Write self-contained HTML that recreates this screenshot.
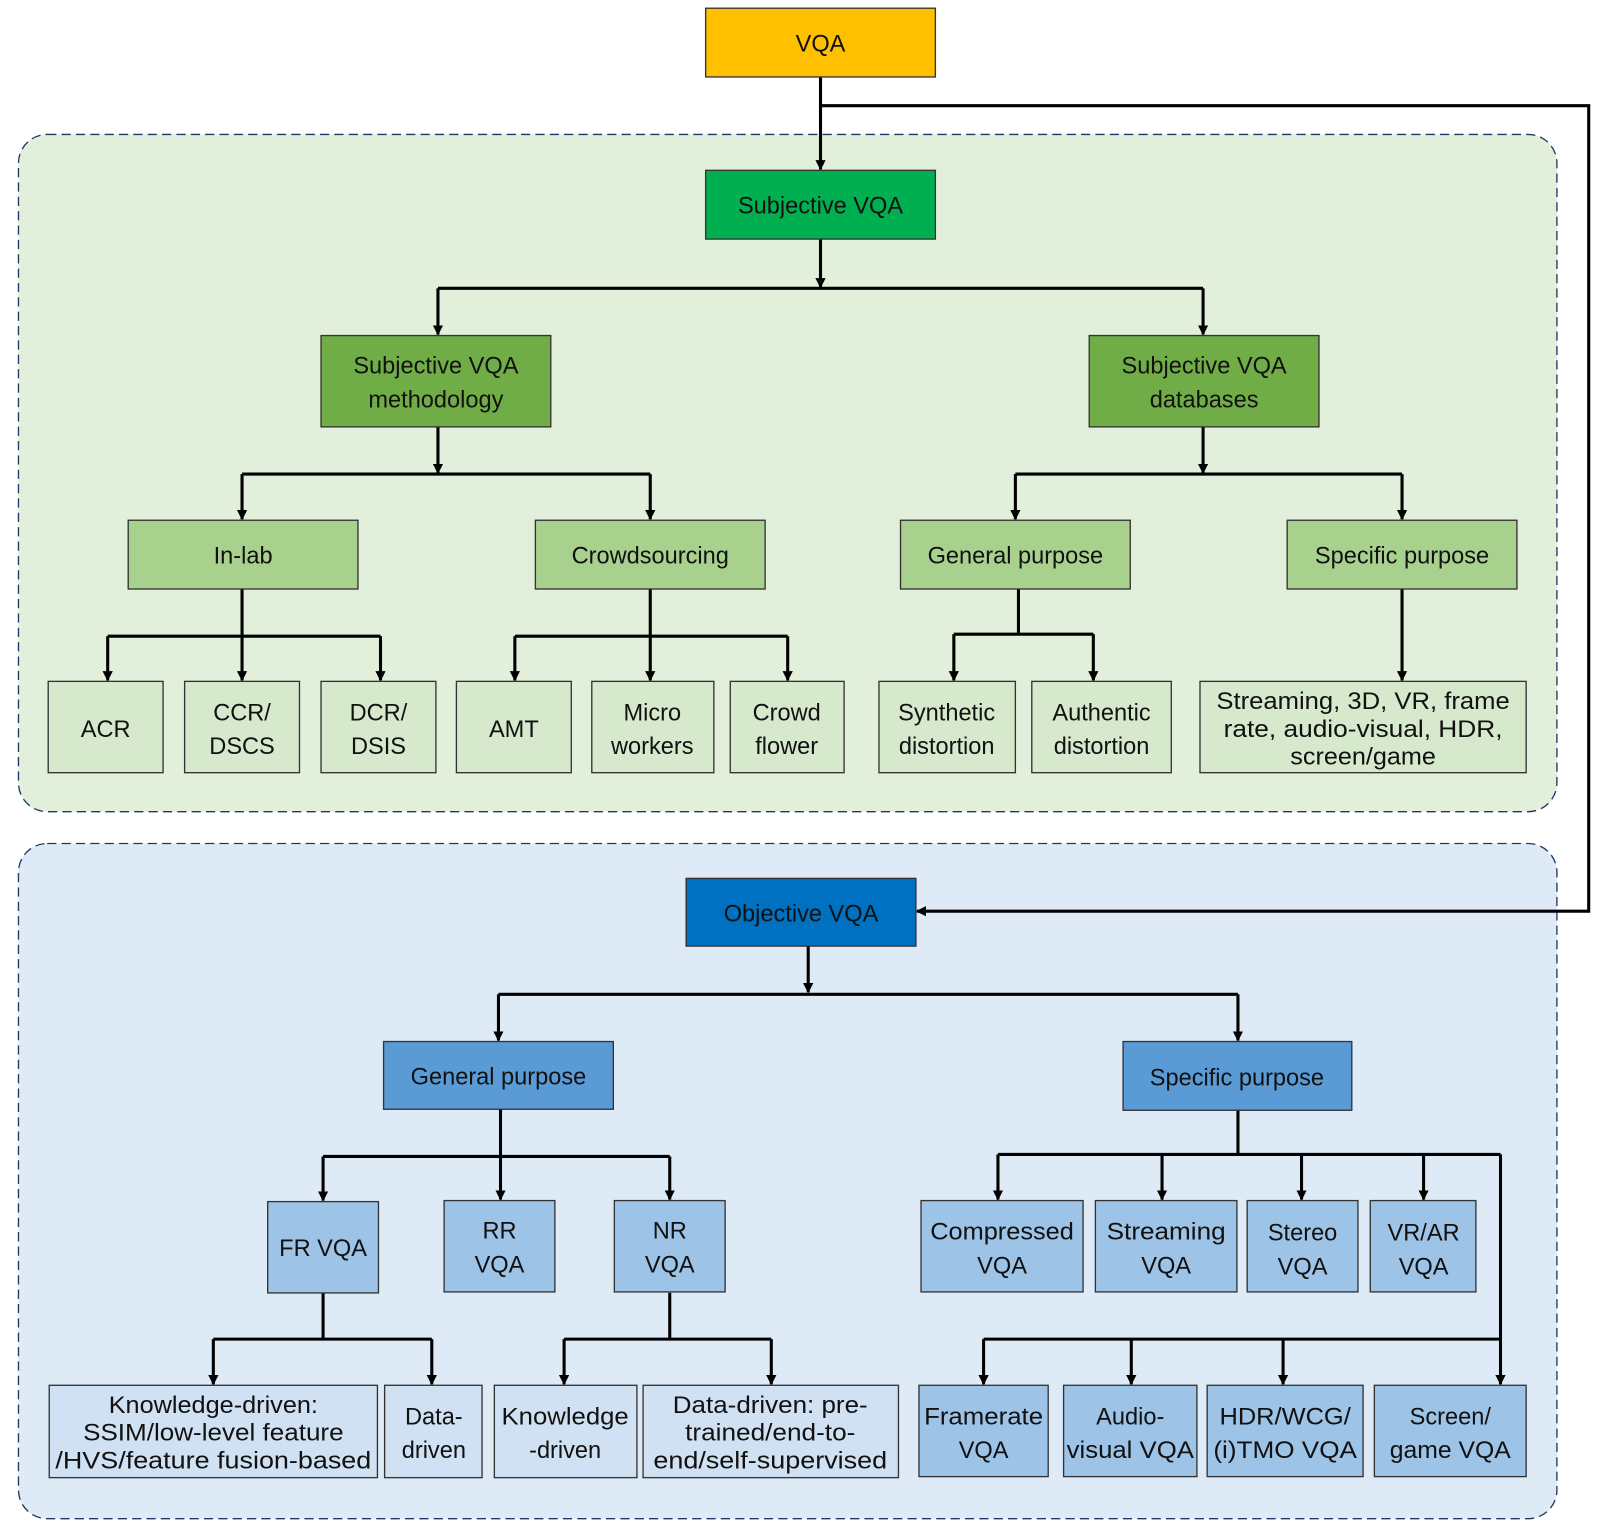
<!DOCTYPE html>
<html><head><meta charset="utf-8"><style>html,body{margin:0;padding:0;background:#fff}svg{display:block}</style></head>
<body>
<svg width="1600" height="1531" viewBox="0 0 1560 1492" preserveAspectRatio="none" xmlns="http://www.w3.org/2000/svg" font-family="Liberation Sans, sans-serif" font-size="23" text-anchor="middle" fill="#111">
<defs><marker id="a" markerWidth="10" markerHeight="10" refX="9" refY="5" orient="auto" markerUnits="userSpaceOnUse"><path d="M0,0 L10,5 L0,10 z" fill="#000"/></marker></defs>
<rect x="18" y="131" width="1500" height="660" rx="28" fill="#E2EFDA" stroke="#203864" stroke-width="1.3" stroke-dasharray="9,5"/>
<rect x="18" y="822" width="1500" height="658" rx="28" fill="#DEEAF6" stroke="#203864" stroke-width="1.3" stroke-dasharray="9,5"/>
<g stroke="#000" stroke-width="3" fill="none">
<path d="M800,75 V165" marker-end="url(#a)"/>
<path d="M800,103 H1549 V888 H894" marker-end="url(#a)"/>
<path d="M800,233 V280" marker-end="url(#a)"/>
<path d="M427,281 H1173"/><path d="M427,281 V326" marker-end="url(#a)"/><path d="M1173,281 V326" marker-end="url(#a)"/>
<path d="M427,416 V461" marker-end="url(#a)"/>
<path d="M236,462 H634"/><path d="M236,462 V506" marker-end="url(#a)"/><path d="M634,462 V506" marker-end="url(#a)"/>
<path d="M1173,416 V461" marker-end="url(#a)"/>
<path d="M990,462 H1367"/><path d="M990,462 V506" marker-end="url(#a)"/><path d="M1367,462 V506" marker-end="url(#a)"/>
<path d="M236,574 V663" marker-end="url(#a)"/><path d="M105,620 H371"/><path d="M105,620 V663" marker-end="url(#a)"/><path d="M371,620 V663" marker-end="url(#a)"/>
<path d="M634,574 V663" marker-end="url(#a)"/><path d="M502,620 H768"/><path d="M502,620 V663" marker-end="url(#a)"/><path d="M768,620 V663" marker-end="url(#a)"/>
<path d="M993,574 V618 M930,618 H1066"/><path d="M930,618 V663" marker-end="url(#a)"/><path d="M1066,618 V663" marker-end="url(#a)"/>
<path d="M1367,574 V663" marker-end="url(#a)"/>
<path d="M788,922 V967" marker-end="url(#a)"/>
<path d="M486,969 H1207"/><path d="M486,969 V1014" marker-end="url(#a)"/><path d="M1207,969 V1014" marker-end="url(#a)"/>
<path d="M488,1081 V1169" marker-end="url(#a)"/><path d="M315,1127 H653"/><path d="M315,1127 V1170" marker-end="url(#a)"/><path d="M653,1127 V1169" marker-end="url(#a)"/>
<path d="M1207,1082 V1125 M973,1125 H1463"/>
<path d="M973,1125 V1169" marker-end="url(#a)"/><path d="M1133,1125 V1169" marker-end="url(#a)"/><path d="M1269,1125 V1169" marker-end="url(#a)"/><path d="M1388,1125 V1169" marker-end="url(#a)"/>
<path d="M1463,1125 V1349" marker-end="url(#a)"/>
<path d="M959,1305 H1463"/><path d="M959,1305 V1349" marker-end="url(#a)"/><path d="M1103,1305 V1349" marker-end="url(#a)"/><path d="M1251,1305 V1349" marker-end="url(#a)"/>
<path d="M315,1260 V1305 M208,1305 H421"/><path d="M208,1305 V1349" marker-end="url(#a)"/><path d="M421,1305 V1349" marker-end="url(#a)"/>
<path d="M653,1260 V1305 M550,1305 H752"/><path d="M550,1305 V1349" marker-end="url(#a)"/><path d="M752,1305 V1349" marker-end="url(#a)"/>
</g>
<g stroke="#333" stroke-width="1.3">
<rect x="688" y="8" width="224" height="67" fill="#FFC000"/>
<rect x="688" y="166" width="224" height="67" fill="#00B050"/>
<rect x="313" y="327" width="224" height="89" fill="#70AD47"/>
<rect x="1062" y="327" width="224" height="89" fill="#70AD47"/>
<g fill="#A9D18E"><rect x="125" y="507" width="224" height="67"/><rect x="522" y="507" width="224" height="67"/><rect x="878" y="507" width="224" height="67"/><rect x="1255" y="507" width="224" height="67"/></g>
<g fill="#D6E9CC"><rect x="47" y="664" width="112" height="89"/><rect x="180" y="664" width="112" height="89"/><rect x="313" y="664" width="112" height="89"/><rect x="445" y="664" width="112" height="89"/><rect x="577" y="664" width="119" height="89"/><rect x="712" y="664" width="111" height="89"/><rect x="857" y="664" width="133" height="89"/><rect x="1006" y="664" width="136" height="89"/><rect x="1170" y="664" width="318" height="89"/></g>
<rect x="669" y="856" width="224" height="66" fill="#0070C0"/>
<rect x="374" y="1015" width="224" height="66" fill="#5B9BD5"/>
<rect x="1095" y="1015" width="223" height="67" fill="#5B9BD5"/>
<g fill="#9DC3E6"><rect x="261" y="1171" width="108" height="89"/><rect x="433" y="1170" width="108" height="89"/><rect x="599" y="1170" width="108" height="89"/><rect x="898" y="1170" width="158" height="89"/><rect x="1068" y="1170" width="138" height="89"/><rect x="1216" y="1170" width="108" height="89"/><rect x="1336" y="1170" width="103" height="89"/><rect x="896" y="1350" width="126" height="89"/><rect x="1037" y="1350" width="130" height="89"/><rect x="1177" y="1350" width="152" height="89"/><rect x="1340" y="1350" width="148" height="89"/></g>
<g fill="#CFE1F2"><rect x="48" y="1350" width="320" height="90"/><rect x="375" y="1350" width="95" height="90"/><rect x="482" y="1350" width="139" height="90"/><rect x="627" y="1350" width="249" height="90"/></g>
</g>
<g>
<text x="800" y="50">VQA</text>
<text x="800" y="208">Subjective VQA</text>
<text x="425" y="364">Subjective VQA</text><text x="425" y="397">methodology</text>
<text x="1174" y="364">Subjective VQA</text><text x="1174" y="397">databases</text>
<text x="237" y="549">In-lab</text><text x="634" y="549">Crowdsourcing</text><text x="990" y="549">General purpose</text><text x="1367" y="549">Specific purpose</text>
<text x="103" y="718">ACR</text>
<text x="236" y="702">CCR/</text><text x="236" y="735">DSCS</text>
<text x="369" y="702">DCR/</text><text x="369" y="735">DSIS</text>
<text x="501" y="718">AMT</text>
<text x="636" y="702">Micro</text><text x="636" y="735">workers</text>
<text x="767" y="702">Crowd</text><text x="767" y="735">flower</text>
<text x="923" y="702">Synthetic</text><text x="923" y="735">distortion</text>
<text x="1074" y="702">Authentic</text><text x="1074" y="735">distortion</text>
<text x="1329" y="691" textLength="286" lengthAdjust="spacingAndGlyphs">Streaming, 3D, VR, frame</text><text x="1329" y="718" textLength="272" lengthAdjust="spacingAndGlyphs">rate, audio-visual, HDR,</text><text x="1329" y="745" textLength="142" lengthAdjust="spacingAndGlyphs">screen/game</text>
<text x="781" y="898">Objective VQA</text>
<text x="486" y="1057">General purpose</text><text x="1206" y="1058">Specific purpose</text>
<text x="315" y="1224">FR VQA</text>
<text x="487" y="1207">RR</text><text x="487" y="1240">VQA</text>
<text x="653" y="1207">NR</text><text x="653" y="1240">VQA</text>
<text x="977" y="1208" textLength="140" lengthAdjust="spacingAndGlyphs">Compressed</text><text x="977" y="1241">VQA</text>
<text x="1137" y="1208" textLength="116" lengthAdjust="spacingAndGlyphs">Streaming</text><text x="1137" y="1241">VQA</text>
<text x="1270" y="1209">Stereo</text><text x="1270" y="1242">VQA</text>
<text x="1388" y="1209">VR/AR</text><text x="1388" y="1242">VQA</text>
<text x="959" y="1388" textLength="116" lengthAdjust="spacingAndGlyphs">Framerate</text><text x="959" y="1421">VQA</text>
<text x="1102" y="1388">Audio-</text><text x="1102" y="1421" textLength="124" lengthAdjust="spacingAndGlyphs">visual VQA</text>
<text x="1253" y="1388" textLength="128" lengthAdjust="spacingAndGlyphs">HDR/WCG/</text><text x="1253" y="1421" textLength="140" lengthAdjust="spacingAndGlyphs">(i)TMO VQA</text>
<text x="1414" y="1388">Screen/</text><text x="1414" y="1421" textLength="118" lengthAdjust="spacingAndGlyphs">game VQA</text>
<text x="208" y="1377" textLength="204" lengthAdjust="spacingAndGlyphs">Knowledge-driven:</text><text x="208" y="1404" textLength="254" lengthAdjust="spacingAndGlyphs">SSIM/low-level feature</text><text x="208" y="1431" textLength="308" lengthAdjust="spacingAndGlyphs">/HVS/feature fusion-based</text>
<text x="423" y="1388">Data-</text><text x="423" y="1421">driven</text>
<text x="551" y="1388" textLength="124" lengthAdjust="spacingAndGlyphs">Knowledge</text><text x="551" y="1421">-driven</text>
<text x="751" y="1377" textLength="190" lengthAdjust="spacingAndGlyphs">Data-driven: pre-</text><text x="751" y="1404" textLength="166" lengthAdjust="spacingAndGlyphs">trained/end-to-</text><text x="751" y="1431" textLength="228" lengthAdjust="spacingAndGlyphs">end/self-supervised</text>
</g>
</svg>
</body></html>
